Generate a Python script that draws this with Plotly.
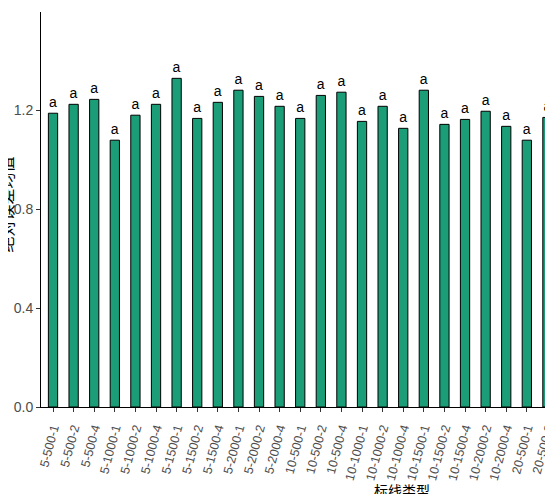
import plotly.graph_objects as go

categories = ["5-500-1", "5-500-2", "5-500-4", "5-1000-1", "5-1000-2", "5-1000-4",
              "5-1500-1", "5-1500-2", "5-1500-4", "5-2000-1", "5-2000-2", "5-2000-4",
              "10-500-1", "10-500-2", "10-500-4", "10-1000-1", "10-1000-2", "10-1000-4",
              "10-1500-1", "10-1500-2", "10-1500-4", "10-2000-2", "10-2000-4",
              "20-500-1", "20-500-2"]
values = [1.187, 1.223, 1.243, 1.078, 1.179, 1.223, 1.328, 1.166, 1.231, 1.280,
          1.255, 1.215, 1.166, 1.259, 1.272, 1.154, 1.215, 1.126, 1.280, 1.142,
          1.162, 1.195, 1.134, 1.078, 1.170]
letters = ["a"] * len(categories)
y_ticks = [0.0, 0.4, 0.8, 1.2]

W, H = 553, 494
OFF = 8  # page body offset
ml, mr, mt, mb = 41 - OFF, OFF, 12 - OFF, H - (407 - OFF)
PW = W - ml - mr
PH = H - mt - mb

fig = go.Figure(go.Bar(
    x=categories, y=values, text=letters, textposition="outside",
    textfont=dict(size=14, color="black", family="Liberation Sans, Arial"),
    cliponaxis=False, width=0.45,
    marker=dict(color="#1b9e77", line=dict(color="black", width=1)),
))

fig.update_layout(
    width=W, height=H, margin=dict(l=ml, r=mr, t=mt, b=mb, autoexpand=False),
    plot_bgcolor="white", paper_bgcolor="white", showlegend=False,
    font=dict(family="Liberation Sans, Arial", size=14, color="#4d4d4d"),
    xaxis=dict(range=[-0.583, 24.27], showline=True, linecolor="black", linewidth=1,
               ticks="outside", ticklen=4, tickcolor="#333333", tickangle=-75,
               automargin=False, ticklabelstandoff=4,
               tickfont=dict(size=12.5, color="#4d4d4d"), showgrid=False, zeroline=False),
    yaxis=dict(range=[0, 1.596], showline=True, linecolor="black", linewidth=1,
               ticks="outside", ticklen=4, tickcolor="#333333",
               tickvals=y_ticks, tickformat=".1f", automargin=False,
               tickfont=dict(size=14, color="#4d4d4d"), showgrid=False, zeroline=False),
    annotations=[
        dict(text="绝对误差均值", textangle=-90, xref="paper", yref="paper",
             x=(5 - 41) / PW, y=(407 - 204.5) / PH, xanchor="center", yanchor="middle",
             showarrow=False, font=dict(size=16, color="black", family="Noto Sans CJK SC")),
        dict(text="标线类型", xref="paper", yref="paper",
             x=(402 - 41) / PW, y=-(490 - 407) / PH,
             xanchor="center", yanchor="middle",
             showarrow=False, font=dict(size=14, color="black", family="Noto Sans CJK SC")),
    ],
)

fig.write_html("out.html")
